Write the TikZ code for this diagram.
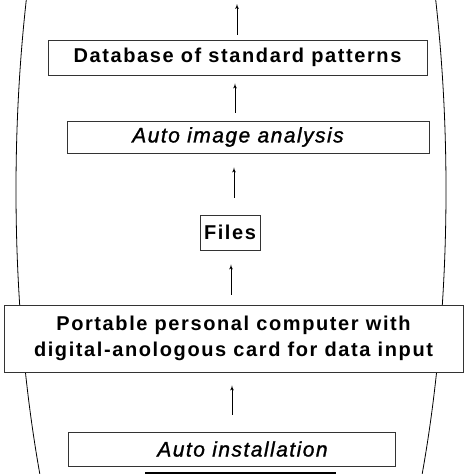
\documentclass[tikz,border=0pt]{standalone}
\usepackage{fontspec}
\setmainfont{Liberation Sans}[LetterSpace=8]
\newfontfamily\semiitfont{Liberation Sans}[LetterSpace=7, FakeBold=1.2]
\usetikzlibrary{shapes,arrows}
\begin{document}
\begin{tikzpicture}[x=1pt, y=-1pt, >=latex',
    block/.style={
            draw=black!80,
            line width=0.9pt,
            fill=white,
            rectangle,
            inner sep=0pt,
            font=\fontsize{20}{26}\selectfont\bfseries
        },
        iblock/.style={block, font=\fontsize{21}{26}\selectfont\semiitfont\itshape},
        flow/.style={->, line width=0.7pt}
]
    \useasboundingbox (0,0) rectangle (474,474);
    \clip (0,0) rectangle (474,474);

    % outer outline
    \draw [line width=0.8pt] (231,190) ellipse [x radius=215pt, y radius=620pt];

    \node [block, minimum width=379pt, minimum height=35pt] (db) at (237.5,57.5) {Database of standard patterns};
    \node [iblock, minimum width=362pt, minimum height=32pt] (analysis) at (248,137) {\kern-20pt Auto image analysis};
    \node [block, minimum width=60pt, minimum height=35pt] (files) at (230,232.5) {Files};
    \node [block, minimum width=459pt, minimum height=67pt, align=center] (pc) at (233.5,338.5)
        {Portable personal computer with\\digital-anologous card for data input};
    \node [iblock, minimum width=327pt, minimum height=34pt] (install) at (231.5,449) {\kern22pt Auto installation};
    \node [fill=black, inner sep=0pt, minimum width=191pt, minimum height=8pt] (bar) at (240.5,476) {};

    \coordinate (out) at (237,4);
    \coordinate (c2) at (235,0);
    \coordinate (c3) at (234,0);
    \coordinate (c4) at (231,0);
    \coordinate (c5) at (232,0);

    \draw [flow, shorten <=5pt] (db.north -| out) -- (out);
    \draw [flow, shorten <=8pt, shorten >=8pt] (analysis.north -| c2) -- (db.south -| c2);
    \draw [flow, shorten <=17pt, shorten >=14pt] (files.north -| c3) -- (analysis.south -| c3);
    \draw [flow, shorten <=10pt, shorten >=14pt] (pc.north -| c4) -- (files.south -| c4);
    \draw [flow, shorten <=17pt, shorten >=13pt] (install.north -| c5) -- (pc.south -| c5);
\end{tikzpicture}
\end{document}
